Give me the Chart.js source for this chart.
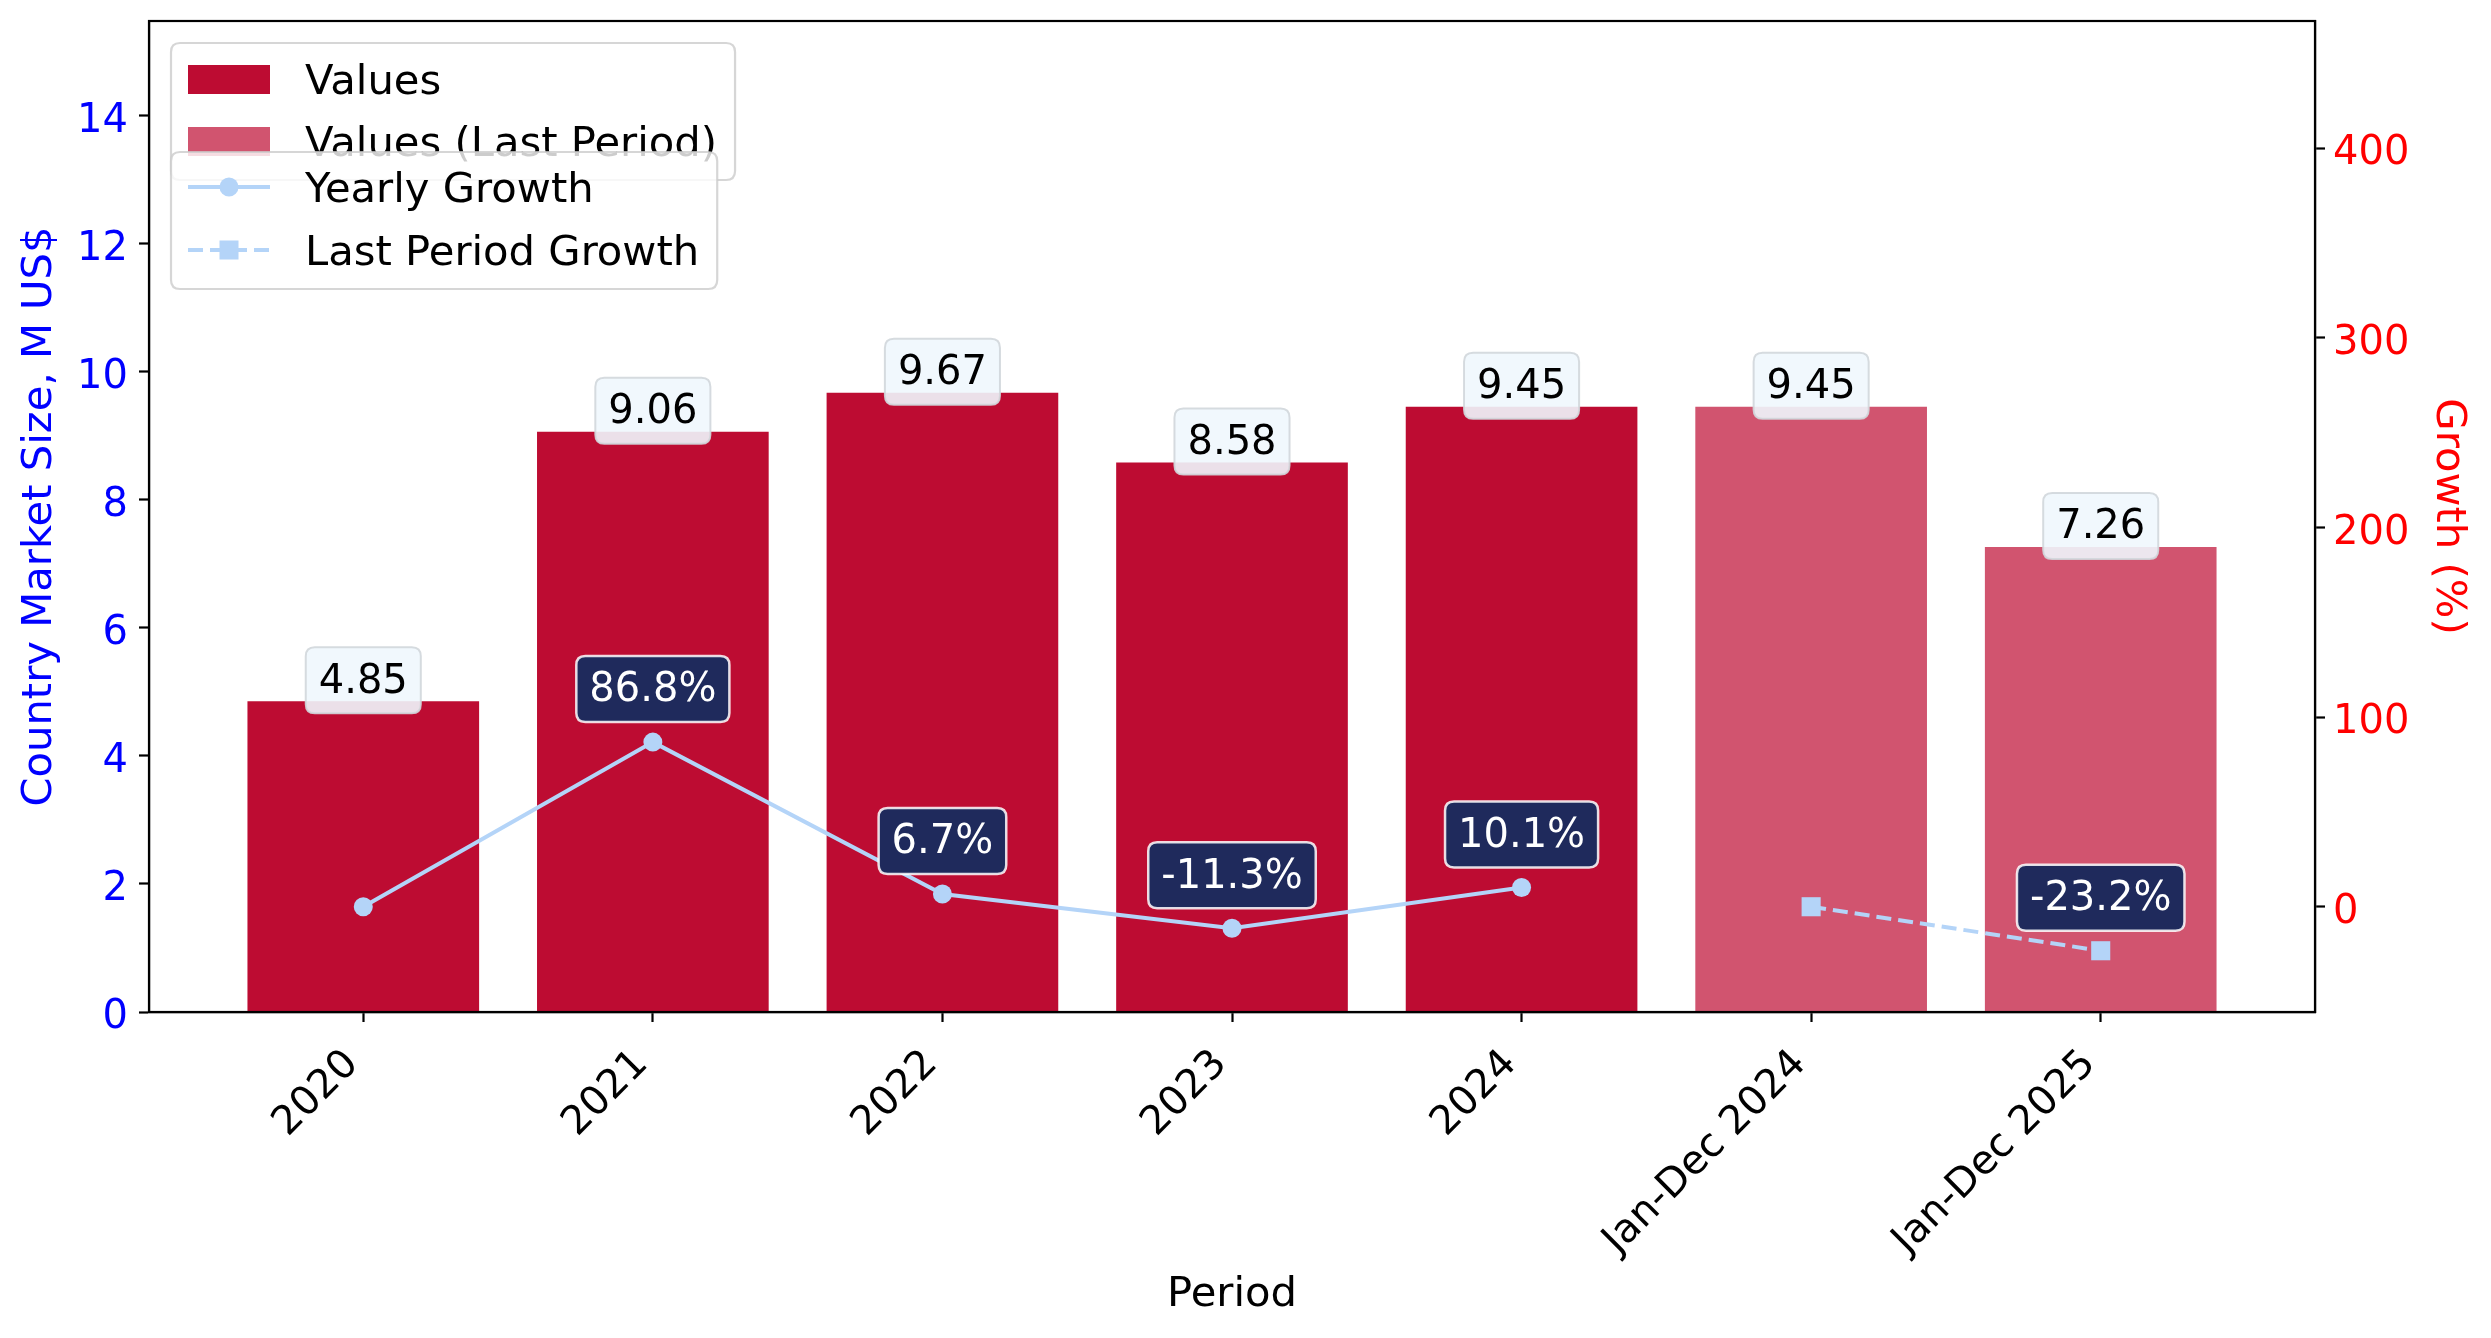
<!DOCTYPE html>
<html>
<head>
<meta charset="utf-8">
<title>Country Market Size</title>
<script src="https://cdn.jsdelivr.net/npm/chart.js@4.4.1/dist/chart.umd.min.js"></script>
<style>
  html, body { margin: 0; padding: 0; background: #fff; }
  #chart { display: block; }
</style>
</head>
<body>
<canvas id="chart" width="2491" height="1338"></canvas>
<script>
// Country market size + growth, bars on left axis, growth lines on right axis
const periods = ['2020', '2021', '2022', '2023', '2024', 'Jan-Dec 2024', 'Jan-Dec 2025'];
const yearlyValues = [4.85, 9.06, 9.67, 8.58, 9.45];       // 2020..2024
const lastPeriodValues = [9.45, 7.26];                     // Jan-Dec 2024, Jan-Dec 2025
const yearlyGrowth = [0, 86.8, 6.7, -11.3, 10.1];
const lastPeriodGrowth = [0, -23.2];
const valueTicks = [0, 2, 4, 6, 8, 10, 12, 14];
const growthTicks = [0, 100, 200, 300, 400];
const growthLimits = [-55.5, 467];

(function () {
  const FONT = 'DejaVu Sans';
  Chart.defaults.font.family = FONT;
  Chart.defaults.color = '#000';

  const BAR = 'rgb(189, 12, 50)';
  const BAR_LAST = 'rgba(189, 12, 50, 0.7)';
  const LINE = '#b4d4f8';
  const NAVY = '#1f2a5c';
  const SPINE = 2.2;
  const TICK_FONT = 40;
  const LABEL_FONT = 41.7;
  const TAG_FONT = 40;

  const n = yearlyValues.length;
  const xPad = 0.4 + 0.05 * (periods.length - 1 + 0.8);
  const valueMax = Math.max(...yearlyValues, ...lastPeriodValues) * 1.6;

  function roundRect(ctx, x, y, w, h, r) {
    ctx.beginPath();
    ctx.moveTo(x + r, y);
    ctx.lineTo(x + w - r, y);
    ctx.quadraticCurveTo(x + w, y, x + w, y + r);
    ctx.lineTo(x + w, y + h - r);
    ctx.quadraticCurveTo(x + w, y + h, x + w - r, y + h);
    ctx.lineTo(x + r, y + h);
    ctx.quadraticCurveTo(x, y + h, x, y + h - r);
    ctx.lineTo(x, y + r);
    ctx.quadraticCurveTo(x, y, x + r, y);
    ctx.closePath();
  }

  // boxed text centred at (cx, cy)
  function drawTag(ctx, text, cx, cy, style) {
    ctx.save();
    ctx.font = TAG_FONT + 'px "' + FONT + '"';
    const w = ctx.measureText(text).width + 26;
    const h = 66;
    roundRect(ctx, cx - w / 2, cy - h / 2, w, h, 9);
    ctx.fillStyle = style.fill;
    ctx.fill();
    ctx.lineWidth = style.lineWidth;
    ctx.strokeStyle = style.stroke;
    ctx.stroke();
    ctx.fillStyle = style.color;
    ctx.textAlign = 'center';
    ctx.textBaseline = 'middle';
    ctx.fillText(text, cx, cy + 2);
    ctx.restore();
  }

  const frame = {
    id: 'frame',
    afterDatasetsDraw(chart) {
      const { ctx, chartArea: a } = chart;
      ctx.save();
      ctx.strokeStyle = '#000';
      ctx.lineWidth = SPINE;
      ctx.strokeRect(a.left, a.top, a.right - a.left, a.bottom - a.top);
      ctx.restore();
    }
  };

  const tags = {
    id: 'tags',
    afterDatasetsDraw(chart) {
      const ctx = chart.ctx;
      chart.data.datasets.forEach((ds, di) => {
        const meta = chart.getDatasetMeta(di);
        meta.data.forEach((el, i) => {
          const v = ds.data[i].y;
          if (ds.type === 'bar') {
            drawTag(ctx, v.toFixed(2), el.x, el.y - 21, {
              fill: 'rgba(240, 247, 253, 0.9)', stroke: 'rgba(210, 215, 220, 0.9)', lineWidth: 2, color: '#000'
            });
          } else if (v !== 0) {
            drawTag(ctx, v.toFixed(1) + '%', el.x, el.y - 53, {
              fill: NAVY, stroke: 'rgba(255, 255, 255, 0.85)', lineWidth: 2.5, color: '#fff'
            });
          }
        });
      });
    }
  };

  // two stacked legend boxes, second drawn over the first like in the source
  const legends = {
    id: 'legends',
    afterDraw(chart) {
      const { ctx, chartArea: a } = chart;
      const x0 = a.left + 22;
      const textX = x0 + 134;
      ctx.save();
      ctx.font = LABEL_FONT + 'px "' + FONT + '"';

      function box(top, h, labels) {
        const w = (textX - x0) + Math.max(...labels.map(t => ctx.measureText(t).width)) + 18;
        roundRect(ctx, x0, top, w, h, 9);
        ctx.fillStyle = 'rgba(255, 255, 255, 0.8)';
        ctx.fill();
        ctx.lineWidth = 2.2;
        ctx.strokeStyle = 'rgba(204, 204, 204, 0.8)';
        ctx.stroke();
      }
      function label(text, y) {
        ctx.fillStyle = '#000';
        ctx.textAlign = 'left';
        ctx.textBaseline = 'middle';
        ctx.fillText(text, textX, y + 4);
      }

      const t1 = a.top + 22;
      box(t1, 137, ['Values', 'Values (Last Period)']);
      ctx.fillStyle = BAR;
      ctx.fillRect(x0 + 17, t1 + 36 - 14, 82, 29);
      label('Values', t1 + 36);
      ctx.fillStyle = BAR_LAST;
      ctx.fillRect(x0 + 17, t1 + 98 - 14, 82, 29);
      label('Values (Last Period)', t1 + 98);

      const t2 = a.top + 131;
      box(t2, 137, ['Yearly Growth', 'Last Period Growth']);
      const hx1 = x0 + 17, hx2 = x0 + 99, hm = (hx1 + hx2) / 2;
      let y = t2 + 35;
      ctx.strokeStyle = LINE;
      ctx.lineWidth = 4;
      ctx.beginPath(); ctx.moveTo(hx1, y); ctx.lineTo(hx2, y); ctx.stroke();
      ctx.fillStyle = LINE;
      ctx.beginPath(); ctx.arc(hm, y, 9.5, 0, Math.PI * 2); ctx.fill();
      label('Yearly Growth', y);

      y = t2 + 98;
      ctx.setLineDash([15, 7]);
      ctx.beginPath(); ctx.moveTo(hx1, y); ctx.lineTo(hx2, y); ctx.stroke();
      ctx.setLineDash([]);
      ctx.fillStyle = LINE;
      ctx.fillRect(hm - 9.5, y - 9.5, 19, 19);
      label('Last Period Growth', y);
      ctx.restore();
    }
  };

  const tickGrid = {
    display: true, drawOnChartArea: false, drawTicks: true,
    tickLength: 10, tickWidth: SPINE, tickColor: '#000', offset: false
  };

  // keep the plot box fixed: axes sizes set by hand, no label overflow padding
  function fixSize(prop, size) {
    return s => {
      s[prop] = size;
      s.paddingTop = 0; s.paddingBottom = 0; s.paddingLeft = 0; s.paddingRight = 0;
    };
  }

  new Chart(document.getElementById('chart'), {
    data: {
      datasets: [
        {
          type: 'line', label: 'Yearly Growth', yAxisID: 'y2', order: 0,
          data: yearlyGrowth.map((g, i) => ({ x: i, y: g })),
          borderColor: LINE, backgroundColor: LINE, borderWidth: 4,
          pointStyle: 'circle', pointRadius: 9.5, pointBorderWidth: 0, tension: 0
        },
        {
          type: 'line', label: 'Last Period Growth', yAxisID: 'y2', order: 0,
          data: lastPeriodGrowth.map((g, i) => ({ x: n + i, y: g })),
          borderColor: LINE, backgroundColor: LINE, borderWidth: 4, borderDash: [15, 7],
          pointStyle: 'rect', pointRadius: 13.5, pointBorderWidth: 0, tension: 0
        },
        {
          type: 'bar', label: 'Values', yAxisID: 'y', order: 1, grouped: false,
          data: yearlyValues.map((v, i) => ({ x: i, y: v })),
          backgroundColor: BAR, categoryPercentage: 0.8, barPercentage: 1
        },
        {
          type: 'bar', label: 'Values (Last Period)', yAxisID: 'y', order: 1, grouped: false,
          data: lastPeriodValues.map((v, i) => ({ x: n + i, y: v })),
          backgroundColor: BAR_LAST, categoryPercentage: 0.8, barPercentage: 1
        }
      ]
    },
    options: {
      responsive: false,
      devicePixelRatio: 1,
      animation: false,
      layout: { padding: { top: 21, left: 0, right: 0, bottom: 0 } },
      plugins: { legend: { display: false }, tooltip: { enabled: false } },
      scales: {
        x: {
          type: 'linear', offset: false,
          min: -xPad, max: periods.length - 1 + xPad,
          afterBuildTicks: s => { s.ticks = periods.map((_, i) => ({ value: i })); },
          afterFit: fixSize('height', 326),
          grid: tickGrid,
          border: { display: true, color: '#000', width: SPINE },
          ticks: {
            autoSkip: false, minRotation: 45, maxRotation: 45,
            padding: 19, labelOffset: -11, color: '#000', font: { size: TICK_FONT },
            callback: v => periods[v] ?? ''
          },
          title: { display: true, text: 'Period', color: '#000', font: { size: LABEL_FONT }, padding: { top: 0, bottom: 18 } }
        },
        y: {
          type: 'linear', position: 'left', min: 0, max: valueMax,
          afterBuildTicks: s => { s.ticks = valueTicks.map(v => ({ value: v })); },
          afterFit: fixSize('width', 149),
          grid: tickGrid,
          border: { display: true, color: '#000', width: SPINE },
          ticks: { color: '#0000ff', font: { size: TICK_FONT }, padding: 11, labelOffset: 6 },
          title: { display: true, text: 'Country Market Size, M US$', color: '#0000ff', font: { size: LABEL_FONT }, padding: { top: 15, bottom: 0 } }
        },
        y2: {
          type: 'linear', position: 'right', min: growthLimits[0], max: growthLimits[1],
          afterBuildTicks: s => { s.ticks = growthTicks.map(v => ({ value: v })); },
          afterFit: fixSize('width', 176),
          grid: tickGrid,
          border: { display: true, color: '#000', width: SPINE },
          ticks: { color: '#ff0000', font: { size: TICK_FONT }, padding: 8, labelOffset: 6 },
          title: { display: true, text: 'Growth (%)', color: '#ff0000', font: { size: LABEL_FONT }, padding: { top: 18, bottom: 0 } }
        }
      }
    },
    plugins: [frame, tags, legends]
  });
})();
</script>
</body>
</html>
